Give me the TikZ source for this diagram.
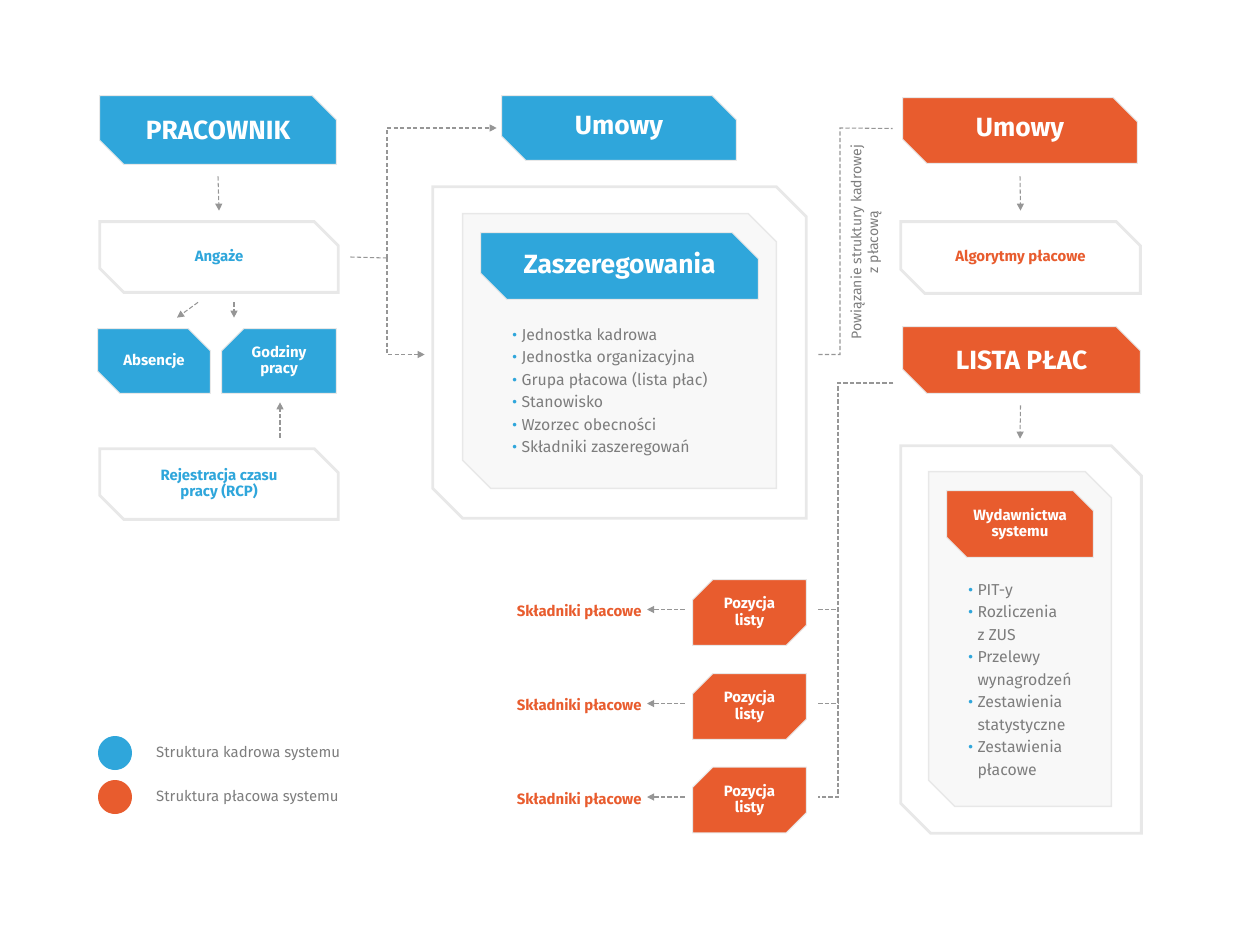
\documentclass[tikz,border=0pt]{standalone}
\usepackage{fontspec}
\setmainfont{Fira Sans}
\usetikzlibrary{calc,arrows.meta,backgrounds}
\definecolor{kadBlue}{RGB}{47,166,219}
\definecolor{placOrange}{RGB}{232,92,46}
\definecolor{lineGray}{RGB}{150,150,150}
\definecolor{txtGray}{RGB}{125,125,125}
\definecolor{edgeGray}{RGB}{232,232,232}
\definecolor{panelFill}{RGB}{248,248,248}

% chamfered outline around a node: node, cuts TL, TR, BR, BL (px), style
\newcommand\slab[6]{%
  \draw[#6] ($(#1.north west)+(#2,0)$) -- ($(#1.north east)+(-#3,0)$) -- ($(#1.north east)+(0,#3)$)
    -- ($(#1.south east)+(0,-#4)$) -- ($(#1.south east)+(-#4,0)$) -- ($(#1.south west)+(#5,0)$)
    -- ($(#1.south west)+(0,-#5)$) -- ($(#1.north west)+(0,#2)$) -- cycle;}
\newcommand\pt[1]{\textcolor{kadBlue}{\textbullet}\ #1}

\begin{document}
\begin{tikzpicture}[x=0.02cm, y=-0.02cm,
    box/.style={inner sep=0pt, align=center, font=\bfseries},
    big/.style={box, text=white, font=\bfseries\fontsize{15}{17}\selectfont},
    small/.style={box, text=white, font=\bfseries\fontsize{8.5}{9.5}\selectfont},
    light/.style={box, font=\bfseries\fontsize{8.5}{9.5}\selectfont},
    solid blue/.style={fill=kadBlue, draw=edgeGray, line width=0.6pt},
    solid orange/.style={fill=placOrange, draw=edgeGray, line width=0.6pt},
    hollow/.style={fill=white, draw=edgeGray, line width=1.6pt},
    panel/.style={fill=panelFill, draw=edgeGray, line width=0.8pt},
    items/.style={align=left, text=txtGray, font=\fontsize{9}{12.8}\selectfont, anchor=north west},
    link/.style={draw=lineGray, dashed, dash pattern=on 2.5pt off 1.2pt, line width=0.6pt},
    arr/.style={link, -{Triangle[length=4pt,width=4pt]}}
]
\useasboundingbox (0,0) rectangle (1240,929);

% left column
\node[big, minimum width=4.72cm, minimum height=1.36cm] (prac) at (218,130) {PRACOWNIK};
\node[light, text=kadBlue, minimum width=4.76cm, minimum height=1.4cm] (angaze) at (219,257) {Angaże};
\node[small, minimum width=2.24cm, minimum height=1.28cm] (absen) at (154,361) {Absencje};
\node[small, minimum width=2.28cm, minimum height=1.28cm] (godz) at (279,361) {Godziny\\pracy};
\node[light, text=kadBlue, minimum width=4.76cm, minimum height=1.4cm] (rcp) at (219,484) {Rejestracja czasu\\pracy (RCP)};

% middle column
\node[big, minimum width=4.68cm, minimum height=1.28cm] (umowyK) at (619,128) {Umowy};
\node[box, minimum width=7.46cm, minimum height=6.62cm] (ramaK) at (619.5,352.5) {};
\node[box, minimum width=6.26cm, minimum height=5.48cm] (tloK) at (619.5,351) {};
\node[big, minimum width=5.54cm, minimum height=1.32cm] (zasz) at (619.5,266) {Zaszeregowania};
\node[items] (listaK) at (506,322) {\pt{Jednostka kadrowa}\\\pt{Jednostka organizacyjna}\\\pt{Grupa płacowa (lista płac)}\\\pt{Stanowisko}\\\pt{Wzorzec obecności}\\\pt{Składniki zaszeregowań}};

% right column
\node[big, minimum width=4.68cm, minimum height=1.3cm] (umowyP) at (1020,130.5) {Umowy};
\node[light, text=placOrange, minimum width=4.78cm, minimum height=1.42cm] (algo) at (1020.5,257.5) {Algorytmy płacowe};
\node[big, minimum width=4.74cm, minimum height=1.32cm] (lista) at (1021.5,360) {LISTA PŁAC};
\node[box, minimum width=4.8cm, minimum height=7.74cm] (ramaP) at (1021,639.5) {};
\node[box, minimum width=3.64cm, minimum height=6.68cm] (tloP) at (1020,639) {};
\node[small, minimum width=2.92cm, minimum height=1.32cm] (wyd) at (1020,524) {Wydawnictwa\\systemu};
\node[items] (listaP) at (962,578) {\pt{PIT-y}\\\pt{Rozliczenia}\\\hphantom{\textbullet\ }z ZUS\\\pt{Przelewy}\\\hphantom{\textbullet\ }wynagrodzeń\\\pt{Zestawienia}\\\hphantom{\textbullet\ }statystyczne\\\pt{Zestawienia}\\\hphantom{\textbullet\ }płacowe};

% positions of the list
\foreach \i/\y in {1/612.5, 2/706.5, 3/800} {
  \node[small, minimum width=2.26cm, minimum height=1.3cm] (poz\i) at (749.5,\y) {Pozycja\\listy};
  \node[light, text=placOrange, anchor=east] (skl\i) at (642,\y) {Składniki płacowe};
}

% legend
\node[circle, fill=kadBlue, minimum size=0.68cm, inner sep=0pt] (legK) at (115,753) {};
\node[circle, fill=placOrange, minimum size=0.68cm, inner sep=0pt] (legP) at (115,797) {};
\node[anchor=west, text=txtGray, font=\fontsize{8.5}{10}\selectfont] at (150,753) {Struktura kadrowa systemu};
\node[anchor=west, text=txtGray, font=\fontsize{8.5}{10}\selectfont] at (150,797) {Struktura płacowa systemu};

\node[rotate=90, align=center, text=txtGray, font=\fontsize{8}{9.5}\selectfont] (powiaz) at (866,242) {Powiązanie struktury kadrowej\\z płacową};

\begin{scope}[on background layer]
  \slab{prac}{0}{24}{0}{24}{solid blue}
  \slab{angaze}{0}{24}{0}{24}{hollow}
  \slab{absen}{0}{22}{0}{22}{solid blue}
  \slab{godz}{22}{0}{0}{0}{solid blue}
  \slab{rcp}{0}{24}{0}{24}{hollow}
  \slab{umowyK}{0}{24}{0}{24}{solid blue}
  \slab{ramaK}{0}{30}{0}{30}{hollow}
  \slab{tloK}{0}{28}{0}{28}{panel}
  \slab{zasz}{0}{26}{0}{26}{solid blue}
  \slab{umowyP}{0}{24}{0}{24}{solid orange}
  \slab{algo}{0}{24}{0}{24}{hollow}
  \slab{lista}{0}{24}{0}{24}{solid orange}
  \slab{ramaP}{0}{30}{0}{30}{hollow}
  \slab{tloP}{0}{26}{0}{26}{panel}
  \slab{wyd}{0}{20}{0}{20}{solid orange}
  \foreach \i in {1,2,3} {\slab{poz\i}{0}{0}{0}{0}{draw=none}}
  \foreach \i in {1,2,3} {\slab{poz\i}{20}{0}{20}{0}{solid orange}}
\end{scope}

% connectors
\draw[arr] ($(prac.south)+(0,12)$) -- ($(angaze.north)+(0,-11)$);
\draw[arr] ($(angaze.south)+(-21,10)$) -- ($(absen.north)+(23,-11)$);
\draw[arr] ($(angaze.south)+(15,10)$) -- ($(godz.north)+(-45,-11)$);
\draw[arr] ($(rcp.north)+(61,-11)$) -- ($(godz.south)+(1,9)$);
\coordinate (rozw) at (387,258);
\draw[link] ($(angaze.east)+(12,0)$) -- (rozw);
\draw[arr] (rozw) |- ($(umowyK.west)+(-5,0)$);
\draw[arr] (rozw) |- ($(ramaK.west)+(-8,2)$);
\coordinate (kolanoP) at (840,128);
\draw[link] ($(ramaK.east)+(12,2)$) -| (kolanoP) -- ($(umowyP.west)+(-10,-2)$);
\draw[arr] ($(umowyP.south)+(0,13)$) -- ($(algo.north)+(0,-11)$);
\draw[arr] ($(lista.south)+(-1,12)$) -- ($(ramaP.north)+(-1,-7)$);
\coordinate (pion) at (838,383);
\draw[link] ($(lista.east)+(-247,23)$) -- (pion) |- ($(poz3.east)+(12,-3)$);
\foreach \i in {1,2} {\draw[link] ($(poz\i.east)+(12,-3)$) -- ($(pion |- poz\i.east)+(0,-3)$);}
\foreach \i in {1,2,3} {\draw[arr] ($(poz\i.west)+(-8,-3)$) -- ($(skl\i.east)+(5,-3)$);}
\end{tikzpicture}
\end{document}
